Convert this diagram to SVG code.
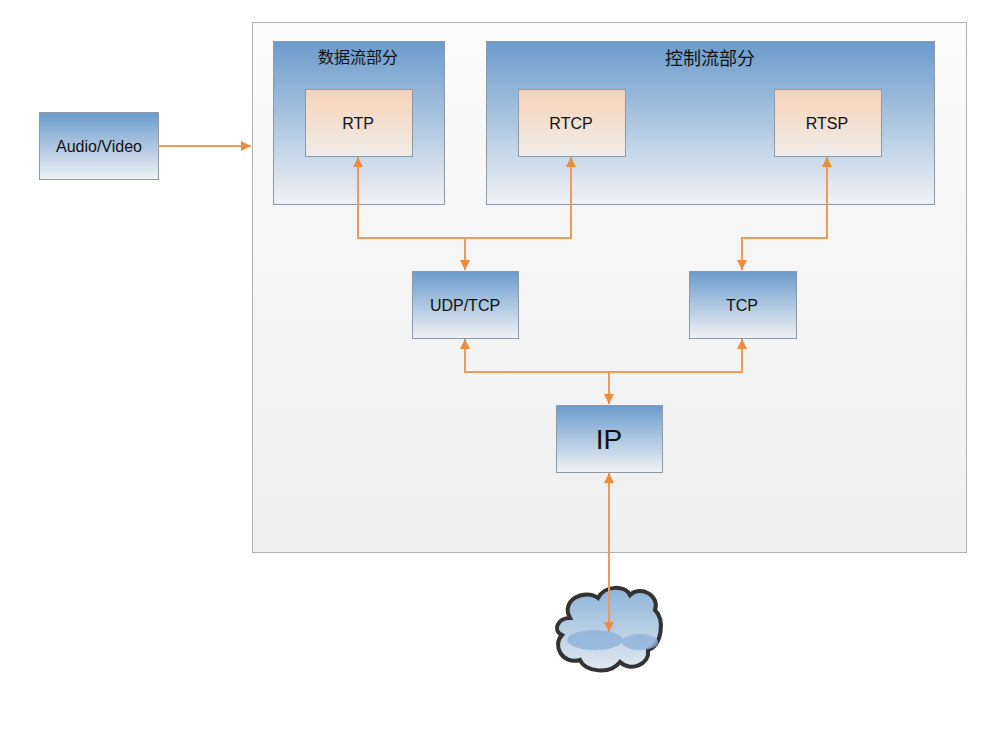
<svg xmlns="http://www.w3.org/2000/svg" width="989" height="737" viewBox="0 0 989 737">
<defs>
<linearGradient id="blue" x1="0" y1="0" x2="0" y2="1"><stop offset="0" stop-color="#6b9bcc"/><stop offset="1" stop-color="#f0f2f5"/></linearGradient>
<linearGradient id="orange" x1="0" y1="0" x2="0" y2="1"><stop offset="0" stop-color="#f6d3b8"/><stop offset="1" stop-color="#f0ece8"/></linearGradient>
<linearGradient id="cont" x1="0" y1="0" x2="0" y2="1"><stop offset="0" stop-color="#fbfbfb"/><stop offset="1" stop-color="#efefef"/></linearGradient>
<linearGradient id="cloud" x1="0" y1="0" x2="0" y2="1"><stop offset="0" stop-color="#8db4da"/><stop offset="1" stop-color="#e0e8f0"/></linearGradient>
<marker id="ah" viewBox="0 0 10 10" refX="10" refY="5" markerWidth="5" markerHeight="5" orient="auto-start-reverse"><path d="M0,0 L10,5 L0,10 z" fill="#ed8b3f"/></marker>
<style>
.n{stroke:#8a9aab;stroke-width:1}
.t{font-family:"Liberation Sans","Noto Sans CJK SC",sans-serif;fill:#111;text-anchor:middle}
.c{fill:none;stroke:#ed9a5a;stroke-width:2}
</style>
</defs>
<g id="container"><rect x="252.5" y="22.5" width="714" height="530" fill="url(#cont)" stroke="#b0b0b0"/></g>
<g id="data"><rect class="n" x="273.5" y="41.5" width="171" height="163" fill="url(#blue)"/><text class="t" x="358" y="63" font-size="16">数据流部分</text></g>
<g id="control"><rect class="n" x="486.5" y="41.5" width="448" height="163" fill="url(#blue)"/><text class="t" x="710" y="65" font-size="18">控制流部分</text></g>
<g id="rtp"><rect class="n" x="305.5" y="89.5" width="107" height="67" fill="url(#orange)"/><text class="t" x="358" y="129" font-size="16">RTP</text></g>
<g id="rtcp"><rect class="n" x="518.5" y="89.5" width="107" height="67" fill="url(#orange)"/><text class="t" x="571" y="129" font-size="16">RTCP</text></g>
<g id="rtsp"><rect class="n" x="774.5" y="89.5" width="107" height="67" fill="url(#orange)"/><text class="t" x="827" y="129" font-size="16">RTSP</text></g>
<g id="udp"><rect class="n" x="412.5" y="271.5" width="106" height="67" fill="url(#blue)"/><text class="t" x="465" y="311" font-size="16">UDP/TCP</text></g>
<g id="tcp"><rect class="n" x="689.5" y="271.5" width="107" height="67" fill="url(#blue)"/><text class="t" x="742" y="311" font-size="16">TCP</text></g>
<g id="ip"><rect class="n" x="556.5" y="405.5" width="106" height="67" fill="url(#blue)"/><text class="t" x="609" y="449" font-size="28">IP</text></g>
<g id="av"><rect class="n" x="39.5" y="112.5" width="119" height="67" fill="url(#blue)"/><text class="t" x="99" y="152" font-size="16">Audio/Video</text></g>
<g id="cloudnode">
<path d="M570,618 C560,600 585,588 598,598 C605,585 625,585 630,595 C640,585 660,595 655,610 C665,620 662,645 648,650 C650,665 630,672 620,662 C610,675 585,672 580,660 C562,665 552,645 562,635 C552,630 558,618 570,618 Z" fill="url(#cloud)" stroke="#333" stroke-width="4"/>
<ellipse cx="595" cy="640" rx="28" ry="10" fill="#8fb3d8" opacity="0.8"/>
<ellipse cx="640" cy="642" rx="18" ry="8" fill="#8fb3d8" opacity="0.8"/>
</g>
<g id="connectors">
<path class="c" d="M465,238 H358 V157" marker-end="url(#ah)"/>
<path class="c" d="M465,238 H571 V157" marker-end="url(#ah)"/>
<path class="c" d="M465,238 V270" marker-end="url(#ah)"/>
<path class="c" d="M827,157 V238 H742 V270" marker-start="url(#ah)" marker-end="url(#ah)"/>
<path class="c" d="M609,372 H465 V339" marker-end="url(#ah)"/>
<path class="c" d="M609,372 H742 V339" marker-end="url(#ah)"/>
<path class="c" d="M609,372 V404" marker-end="url(#ah)"/>
<path class="c" d="M609,473 V632" marker-start="url(#ah)" marker-end="url(#ah)"/>
<path class="c" d="M158,146 H251" marker-end="url(#ah)"/>
</g>
</svg>
